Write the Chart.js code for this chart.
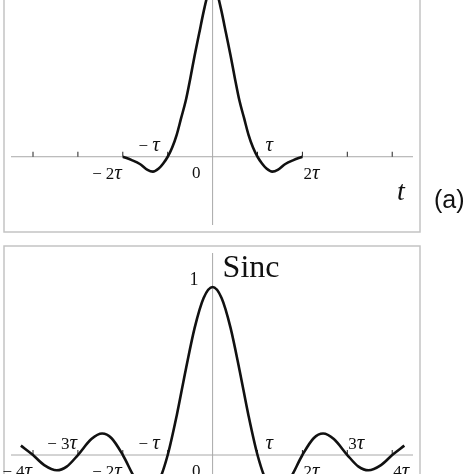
<!DOCTYPE html>
<html>
<head>
<meta charset="utf-8">
<script src="https://cdn.jsdelivr.net/npm/chart.js@4.4.0/dist/chart.umd.min.js"></script>
<style>
  html, body { margin: 0; padding: 0; background: #fff; overflow: hidden; }
  #wrap { position: relative; width: 474px; height: 474px; }
  canvas { position: absolute; left: 0; }
  #topChart { top: 0; }
  #sincChart { top: 240px; }
</style>
</head>
<body>
<div id="wrap">
  <canvas id="topChart" width="474" height="240" style="width:474px;height:240px"></canvas>
  <canvas id="sincChart" width="474" height="234" style="width:474px;height:234px"></canvas>
</div>
<script>
// panel (a): windowed pulse, t in units of tau
const topT = [-2, -1.8, -1.62, -1.45, -1.33, -1.2, -1.1, -1, -0.9, -0.8, -0.7, -0.6, -0.5, -0.4, -0.3, -0.2, -0.1,
              0, 0.1, 0.2, 0.3, 0.4, 0.5, 0.6, 0.7, 0.8, 0.9, 1, 1.1, 1.2, 1.33, 1.45, 1.62, 1.8, 2]
const topV = [0, -0.02, -0.043, -0.078, -0.088, -0.07, -0.04, 0, 0.055, 0.13, 0.23, 0.33, 0.46, 0.6, 0.73, 0.86, 0.97,
              1.03, 0.97, 0.86, 0.73, 0.6, 0.46, 0.33, 0.23, 0.13, 0.055, 0, -0.04, -0.07, -0.088, -0.078, -0.043, -0.02, 0]

// lower panel: Sinc
const sincT = [-4.27, -4, -3.75, -3.47, -3.25, -3, -2.7, -2.46, -2.25, -2, -1.7, -1.43, -1.2, -1, -0.8, -0.6, -0.4, -0.2,
               0, 0.2, 0.4, 0.6, 0.8, 1, 1.2, 1.43, 1.7, 2, 2.25, 2.46, 2.7, 3, 3.25, 3.47, 3.75, 4, 4.27]
const sincV = [0.056, 0, -0.06, -0.091, -0.069, 0, 0.095, 0.128, 0.1, 0, -0.151, -0.217, -0.156, 0, 0.234, 0.505, 0.757, 0.935,
               1, 0.935, 0.757, 0.505, 0.234, 0, -0.156, -0.217, -0.151, 0, 0.1, 0.128, 0.095, 0, -0.069, -0.091, -0.06, 0, 0.056]

const tickValues = [-4, -3, -2, -1, 1, 2, 3, 4]
const topTickLabels = ['', '', '−2τ', '−τ', 'τ', '2τ', '', '']
const sincTickLabels = ['−4τ', '−3τ', '−2τ', '−τ', 'τ', '2τ', '3τ', '4τ']

const SERIF = '"Liberation Serif", "Times New Roman", serif'

function drawTauLabel(ctx, text, x, y, align){
    var parts = []
    var rest = text
    if (rest.startsWith('−')) {
        parts.push({s: '−', font: '17px ' + SERIF, gap: 4})
        rest = rest.slice(1)
    }
    var num = rest.replace('τ', '')
    if (num !== '') parts.push({s: num, font: '17px ' + SERIF, gap: 0})
    parts.push({s: 'τ', font: 'italic 21px ' + SERIF, gap: 0})
    var total = 0
    parts.forEach(p => { ctx.font = p.font; p.w = ctx.measureText(p.s).width; total += p.w + p.gap })
    var cx = align === 'right' ? x - total : x
    ctx.textAlign = 'left'
    ctx.textBaseline = 'alphabetic'
    parts.forEach(p => { ctx.font = p.font; ctx.fillText(p.s, cx, y + 6); cx += p.w + p.gap })
}

const panelDecor = {
    id: 'panelDecor',
    beforeDatasetsDraw(chart, args, opts) {
        const ctx = chart.ctx
        const a = chart.chartArea
        const xs = chart.scales.x
        const ys = chart.scales.y
        const x0 = xs.getPixelForValue(0)
        const y0 = ys.getPixelForValue(0)
        ctx.save()

        // frame
        ctx.strokeStyle = '#c4c4c4'
        ctx.lineWidth = 1.5
        ctx.beginPath()
        if (opts.frameTop) {
            ctx.moveTo(a.left, a.bottom + 2); ctx.lineTo(a.left, a.top); ctx.lineTo(a.right, a.top); ctx.lineTo(a.right, a.bottom + 2)
        } else {
            ctx.moveTo(a.left, a.top - 2); ctx.lineTo(a.left, a.bottom); ctx.lineTo(a.right, a.bottom); ctx.lineTo(a.right, a.top - 2)
        }
        ctx.stroke()

        // axes
        ctx.strokeStyle = '#a8a8a8'
        ctx.lineWidth = 1
        ctx.beginPath()
        ctx.moveTo(a.left + 7, y0); ctx.lineTo(a.right - 7, y0)
        if (opts.frameTop) {
            ctx.moveTo(x0, a.top + 7); ctx.lineTo(x0, a.bottom)
        } else {
            ctx.moveTo(x0, a.top); ctx.lineTo(x0, a.bottom - 7)
        }
        ctx.stroke()

        // ticks + labels
        ctx.strokeStyle = '#222'
        ctx.fillStyle = '#111'
        tickValues.forEach((v, i) => {
            const px = xs.getPixelForValue(v)
            ctx.beginPath()
            ctx.moveTo(px, y0); ctx.lineTo(px, y0 - 5)
            ctx.stroke()
            const lab = opts.labels[i]
            if (!lab) return
            const above = Math.abs(v) % 2 === 1
            const off = Math.abs(v) === 1 ? 8 : 1
            const align = v < 0 ? 'right' : 'left'
            const lx = v < 0 ? px - off : px + off
            drawTauLabel(ctx, lab, lx, above ? y0 - 12 : y0 + 16, align)
        })
        ctx.font = '17px ' + SERIF
        ctx.textAlign = 'right'
        ctx.textBaseline = 'middle'
        ctx.fillText('0', x0 - 12, y0 + 17)

        if (opts.extra) opts.extra(ctx, chart, x0, y0)
        ctx.restore()
    }
}

function makePanel(canvas, ts, vs, yMin, yMax, padding, decor){
    return new Chart(canvas, {
        type: 'line',
        data: {
            datasets: [{
                data: ts.map((t, i) => ({x: t, y: vs[i]})),
                borderColor: '#111',
                borderWidth: 2.6,
                pointRadius: 0,
                cubicInterpolationMode: 'monotone',
                fill: false
            }]
        },
        options: {
            responsive: false,
            animation: false,
            layout: { padding: padding },
            plugins: { legend: { display: false }, tooltip: { enabled: false }, panelDecor: decor },
            scales: {
                x: { type: 'linear', display: false, min: -4.646, max: 4.619 },
                y: { type: 'linear', display: false, min: yMin, max: yMax }
            }
        },
        plugins: [panelDecor]
    })
}

makePanel(document.getElementById('topChart'), topT, topV, -0.446, 0.929,
    {left: 4, right: 54, top: 0, bottom: 8},
    {labels: topTickLabels, frameTop: false, extra: function(ctx, chart){
        ctx.fillStyle = '#111'
        ctx.textAlign = 'left'
        ctx.textBaseline = 'alphabetic'
        ctx.font = 'italic 28px ' + SERIF
        ctx.fillText('t', 397, 200)
        ctx.font = '25px "Liberation Sans", Arial, sans-serif'
        ctx.fillText('(a)', 434, 208)
    }})

makePanel(document.getElementById('sincChart'), sincT, sincV, -0.113, 1.244,
    {left: 4, right: 54, top: 6, bottom: 0},
    {labels: sincTickLabels, frameTop: true, extra: function(ctx, chart, x0){
        ctx.fillStyle = '#111'
        ctx.textAlign = 'left'
        ctx.textBaseline = 'alphabetic'
        ctx.font = '32px ' + SERIF
        ctx.fillText('Sinc', x0 + 10, 37)
        ctx.font = '18px ' + SERIF
        ctx.textAlign = 'right'
        ctx.fillText('1', x0 - 14, 45)
    }})
</script>
</body>
</html>
